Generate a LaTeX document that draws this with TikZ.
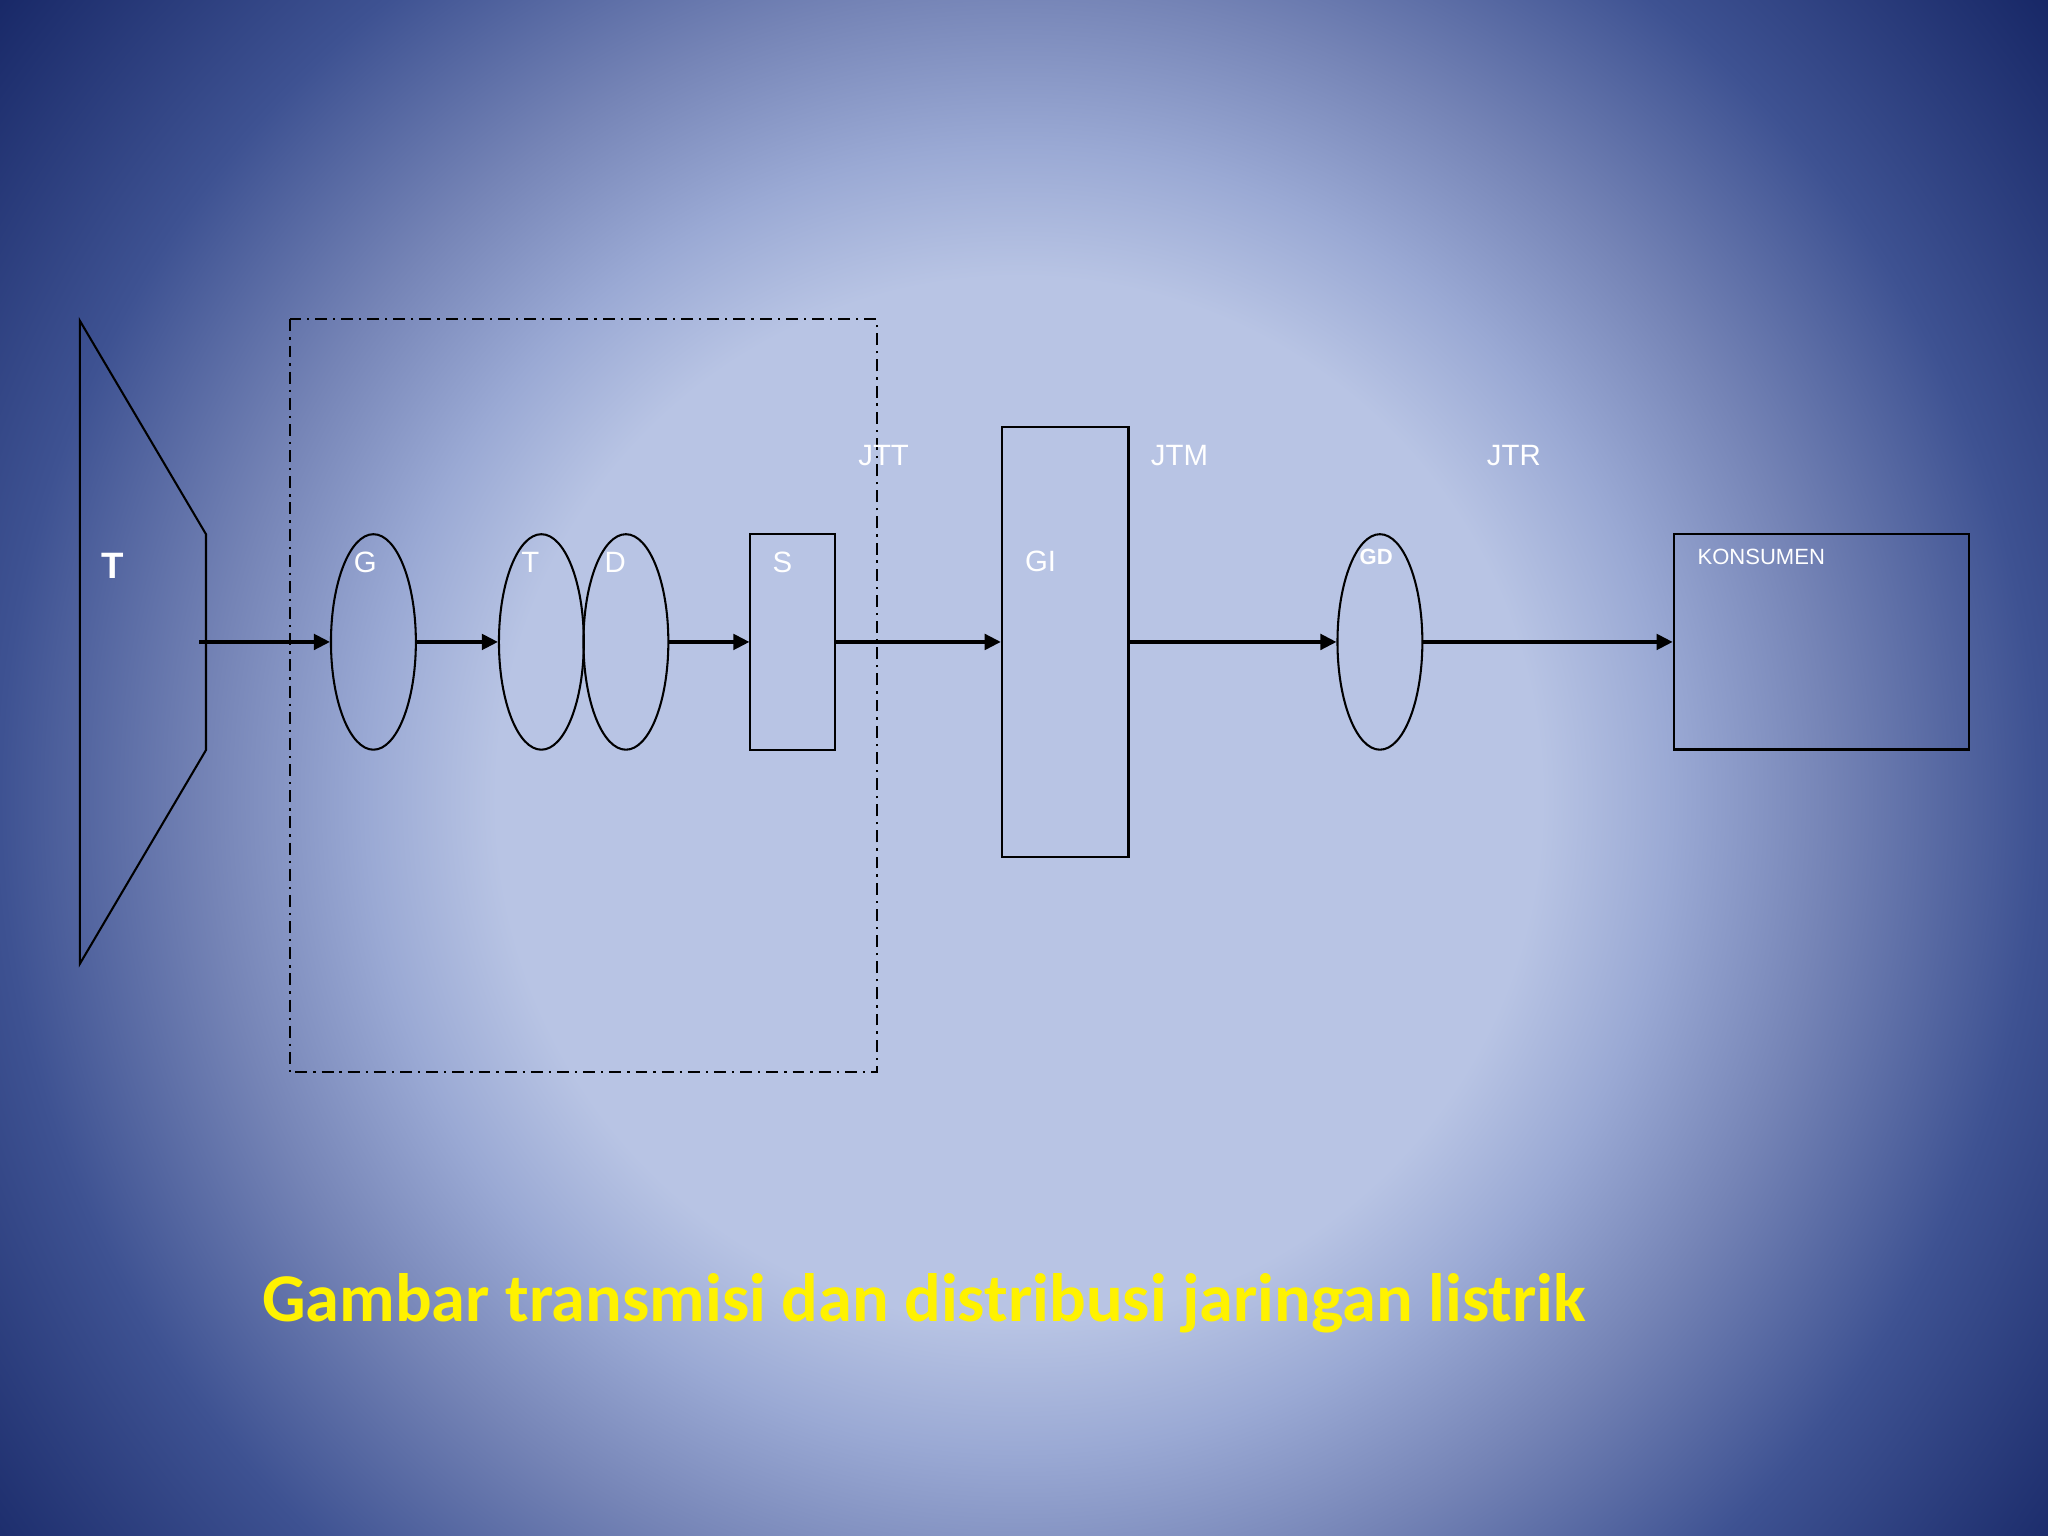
\documentclass[tikz,border=0pt]{standalone}
\usepackage{fontspec}
\setmainfont{Liberation Sans}
\newfontfamily\judulfont{Carlito}
\usetikzlibrary{shapes.geometric,arrows.meta}

\definecolor{bgterang}{HTML}{B8C4E4}
\definecolor{bgmuda}{HTML}{9AA9D4}
\definecolor{bgtengah}{HTML}{7584B6}
\definecolor{bggelap}{HTML}{3E5292}
\definecolor{bgtepi}{HTML}{172766}
\pgfdeclareradialshading{latarslide}{\pgfpoint{0bp}{0bp}}{color(0bp)=(bgterang); color(10bp)=(bgterang); color(12.5bp)=(bgmuda); color(15.5bp)=(bgtengah); color(19.5bp)=(bggelap); color(25bp)=(bgtepi); color(50bp)=(bgtepi)}

\tikzset{
  garis/.style={line width=0.45pt},
  elips/.style={draw, ellipse, garis, inner sep=0pt, minimum width=0.65cm, minimum height=1.65cm},
  kotak/.style={draw, rectangle, garis, inner sep=0pt},
  panah/.style={-{Triangle[length=3.5pt,width=3.4pt]}, line width=0.7pt},
  teks/.style={text=white, inner sep=0pt, font=\fontsize{6.4}{7}\selectfont},
  judul/.style={text=yellow, inner sep=0pt, font=\judulfont\bfseries\fontsize{14.9}{17}\selectfont}
}

\begin{document}
\begin{tikzpicture} %gambar jaringan listrik
  \useasboundingbox (0,0) rectangle (15.68,-11.76);
    %Latar
  \begin{scope}
    \clip (0,0) rectangle (15.68,-11.76);
    \shade[shading=latarslide] (-2.2,3.88) rectangle (17.8,-16.12);
  \end{scope}
    %Turbin
  \draw[garis] (0.611,-2.455) -- (1.577,-4.09) -- (1.577,-5.743) -- (0.611,-7.38) -- cycle;
  \node[teks, font=\bfseries\fontsize{8}{9}\selectfont] (lblturbin) at (0.86,-4.33) {T};
  \coordinate (turbin) at (1.524,-4.915);
    %Pembangkit
  \draw[garis, dash pattern=on 2.6pt off 1.3pt on 0.5pt off 1.3pt] (2.217,-2.445) rectangle (6.711,-8.21);
  \node[elips] (G) at (2.859,-4.915) {};
  \node[elips] (T) at (4.145,-4.915) {};
  \node[elips] (D) at (4.792,-4.915) {};
  \node[kotak, minimum width=0.647cm, minimum height=1.653cm] (S) at (6.069,-4.915) {};
  \node[teks] (lblG) at (2.796,-4.306) {G};
  \node[teks] (lblT) at (4.06,-4.306) {T};
  \node[teks] (lblD) at (4.71,-4.306) {D};
  \node[teks] (lblS) at (5.99,-4.306) {S};
    %Gardu dan jaringan
  \node[kotak, minimum width=0.97cm, minimum height=3.297cm] (GI) at (8.155,-4.915) {};
  \node[elips] (GD) at (10.565,-4.915) {};
  \node[kotak, minimum width=2.258cm, minimum height=1.647cm] (kons) at (13.943,-4.915) {};
  \node[teks] (lblGI) at (7.967,-4.3) {GI};
  \node[teks, font=\bfseries\fontsize{4.8}{5}\selectfont] (lblGD) at (10.536,-4.266) {GD};
  \node[teks, anchor=west, font=\fontsize{4.8}{5}\selectfont] (lblkons) at (12.99,-4.265) {KONSUMEN};
  \node[teks] (JTT) at (6.765,-3.49) {JTT};
  \node[teks] (JTM) at (9.03,-3.49) {JTM};
  \node[teks] (JTR) at (11.59,-3.49) {JTR};
    %Panah
  \draw[panah] (turbin) -- (G.west);
  \draw[panah] (G.east) -- (T.west);
  \draw[panah] (D.east) -- (S.west);
  \draw[panah] (S.east) -- (GI.west);
  \draw[panah] (GI.east) -- (GD.west);
  \draw[panah] (GD.east) -- (kons.west);
    %Judul
  \node[judul, anchor=base west] (judul) at (2.0,-10.12) {Gambar transmisi dan distribusi jaringan listrik};
\end{tikzpicture}
\end{document}
